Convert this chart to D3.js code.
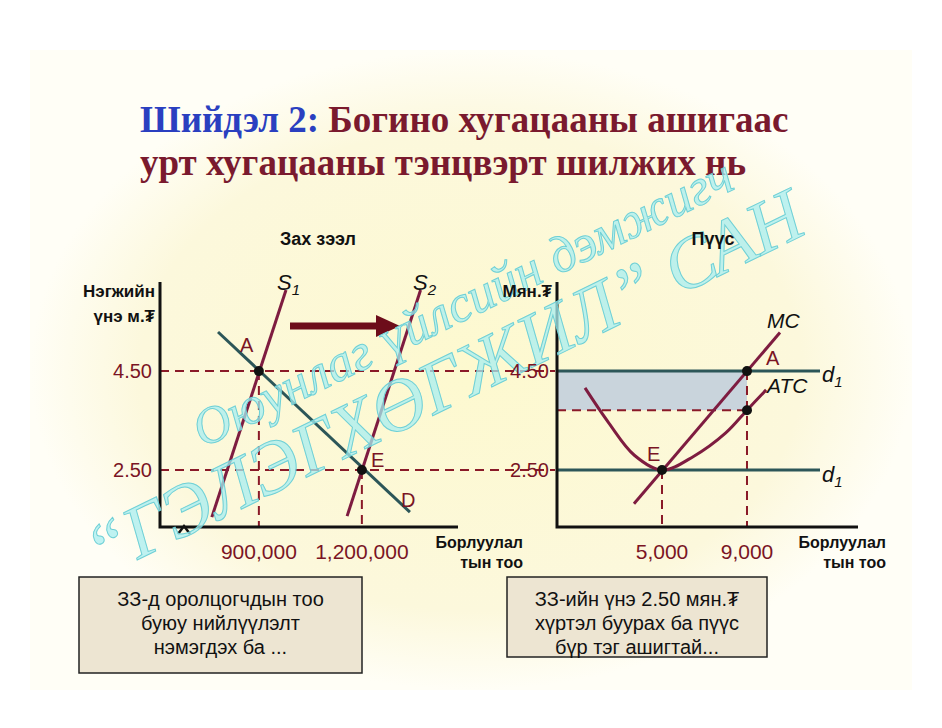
<!DOCTYPE html>
<html><head><meta charset="utf-8">
<script src="https://cdn.jsdelivr.net/npm/d3@7"></script>
<style>body{margin:0;background:#fff}svg{display:block}</style>
</head><body>
<svg id="drawspace" width="942" height="728"></svg>
<script>
// market panel (quantity, price)
const priceLevels = [4.5, 2.5];
const priceLabels = ["4.50", "2.50"];
const marketQty = [900000, 1200000];
const marketQtyLabels = ["900,000", "1,200,000"];
const supply1 = [[763000, 1.55], [979000, 6.14]];
const supply2 = [[1157000, 1.57], [1371000, 6.14]];
const demand = [[781000, 5.29], [1340000, 1.65]];
// firm panel
const firmQty = [5000, 9000];
const firmQtyLabels = ["5,000", "9,000"];
const atcAt9000 = 3.71;
const mcCurve = [[3682, 1.82], [10553, 5.28]];
const atcCurve = [[1377, 4.16], [2500, 3.45], [3700, 2.8], [5000, 2.5], [6500, 2.78], [8000, 3.25], [9000, 3.71], [9900, 4.12]];

const svg = d3.select("#drawspace");
const maroon = "#7e1c40", teal = "#2c5658", dash = "#8a1a28", tick = "#7a1424";

let bg = svg.append("defs").append("radialGradient").attr("id", "bg");
bg.append("stop").attr("offset", "0%").attr("stop-color", "#fdf9cf");
bg.append("stop").attr("offset", "75%").attr("stop-color", "#fcf8dc");
bg.append("stop").attr("offset", "100%").attr("stop-color", "#fffef6");
svg.append("rect").attr("x", 30).attr("y", 50).attr("width", 882).attr("height", 640).attr("fill", "url(#bg)");

// title
let t = svg.append("g").attr("font-family", "Liberation Serif").attr("font-weight", "bold").attr("font-size", 37);
let l1 = t.append("text").attr("x", 140).attr("y", 132);
l1.append("tspan").attr("fill", "#2a3fc0").text("Шийдэл 2:  ");
l1.append("tspan").attr("fill", "#7a1a2e").text("Богино хугацааны ашигаас");
t.append("text").attr("x", 140).attr("y", 175).attr("fill", "#7a1a2e").text("урт хугацааны тэнцвэрт  шилжих нь");

// scales
const y = d3.scaleLinear().domain([1.35, 6.3]).range([527, 282]);
const xm = d3.scaleLinear().domain([612000, 1480000]).range([160, 458]);
const xf = d3.scaleLinear().domain([59, 14224]).range([557, 858]);
const line = (xs) => d3.line().x((d) => xs(d[0])).y((d) => y(d[1]));

// shaded profit area
svg.append("rect").attr("x", xf.range()[0]).attr("y", y(4.5))
  .attr("width", xf(9000) - xf.range()[0]).attr("height", y(atcAt9000) - y(4.5)).attr("fill", "#c9d4dc");

// dashed guides
const dg = svg.append("g").attr("stroke", dash).attr("stroke-width", 2).attr("stroke-dasharray", "9,6");
priceLevels.forEach((p) => dg.append("line").attr("x1", 160).attr("x2", 555).attr("y1", y(p)).attr("y2", y(p)));
marketQty.forEach((q, i) => dg.append("line").attr("x1", xm(q)).attr("x2", xm(q)).attr("y1", y(priceLevels[i])).attr("y2", 527));
dg.append("line").attr("x1", 557).attr("x2", xf(9000)).attr("y1", y(atcAt9000)).attr("y2", y(atcAt9000));
firmQty.forEach((q, i) => dg.append("line").attr("x1", xf(q)).attr("x2", xf(q)).attr("y1", y(priceLevels[1 - i])).attr("y2", 527));

// d1 lines
priceLevels.forEach((p) => svg.append("line").attr("x1", 557).attr("x2", 820).attr("y1", y(p)).attr("y2", y(p))
  .attr("stroke", teal).attr("stroke-width", 3));

// axes
const ax = svg.append("g").attr("stroke", "#111").attr("stroke-width", 3).attr("fill", "none");
ax.append("path").attr("d", "M160,282V527H458");
ax.append("path").attr("d", "M557,282V527H858");
ax.append("path").attr("d", "M178,534L184,526L190,534").attr("stroke-width", 2.5);

// market curves
svg.append("path").attr("d", line(xm)(demand)).attr("stroke", teal).attr("stroke-width", 3);
[supply1, supply2].forEach((s) => svg.append("path").attr("d", line(xm)(s)).attr("stroke", maroon).attr("stroke-width", 3));
// arrow
svg.append("path").attr("d", "M290,326H378").attr("stroke", "#6d0d1a").attr("stroke-width", 7);
svg.append("path").attr("d", "M376,315L400,326L376,337Z").attr("fill", "#6d0d1a");

// firm curves
svg.append("path").attr("d", line(xf)(mcCurve)).attr("stroke", maroon).attr("stroke-width", 3);
svg.append("path").attr("d", line(xf).curve(d3.curveCatmullRom)(atcCurve)).attr("fill", "none").attr("stroke", maroon).attr("stroke-width", 3);

// points
[[xm(900000), y(4.5)], [xm(1200000), y(2.5)], [xf(5000), y(2.5)], [xf(9000), y(4.5)], [xf(9000), y(atcAt9000)]]
  .forEach((p) => svg.append("circle").attr("cx", p[0]).attr("cy", p[1]).attr("r", 5).attr("fill", "#111"));

// watermark
const wm = svg.append("g").attr("font-family", "Liberation Serif").attr("font-style", "italic")
  .attr("fill", "#a8eef0").attr("fill-opacity", 0.75).attr("stroke", "#6fd0d6").attr("stroke-width", 1);
wm.append("text").attr("transform", "translate(470,318) rotate(-26)").attr("text-anchor", "middle")
  .attr("font-size", 52).text("Оюунлаг үйлсийн дэмжигч");
wm.append("text").attr("transform", "translate(455,405) rotate(-26)").attr("text-anchor", "middle")
  .attr("font-size", 74).text("“ГЭЛЭГХӨГЖИЛ” САН");

// labels
const lab = (x, yy, s, o = {}) => svg.append("text").attr("x", x).attr("y", yy)
  .attr("font-family", "Liberation Sans").attr("font-size", o.size || 20).attr("fill", o.fill || tick)
  .attr("font-weight", o.bold ? "bold" : null).attr("font-style", o.italic ? "italic" : null)
  .attr("text-anchor", o.anchor || "start").text(s);
lab(318, 245, "Зах зээл", { bold: true, fill: "#111", size: 18, anchor: "middle" });
lab(713, 245, "Пүүс", { bold: true, fill: "#111", size: 18, anchor: "middle" });
lab(155, 297, "Нэгжийн", { bold: true, fill: "#111", size: 17, anchor: "end" });
lab(155, 322, "үнэ  м.₮", { bold: true, fill: "#111", size: 17, anchor: "end" });
lab(552, 297, "Мян.₮", { bold: true, fill: "#111", size: 17, anchor: "end" });
priceLabels.forEach((s, i) => {
  lab(152, y(priceLevels[i]) + 7, s, { anchor: "end" });
  lab(549, y(priceLevels[i]) + 7, s, { anchor: "end" });
});
marketQtyLabels.forEach((s, i) => lab(xm(marketQty[i]), 559, s, { anchor: "middle", size: 21 }));
firmQtyLabels.forEach((s, i) => lab(xf(firmQty[i]), 559, s, { anchor: "middle", size: 21 }));
[[523, "Борлуулал", "тын тоо"], [886, "Борлуулал", "тын тоо"]].forEach((d) => {
  lab(d[0], 548, d[1], { bold: true, fill: "#111", size: 16, anchor: "end" });
  lab(d[0], 568, d[2], { bold: true, fill: "#111", size: 16, anchor: "end" });
});
const sub = (x, yy, a, b) => { let e = lab(x, yy, a, { italic: true, fill: "#111", size: 22 });
  e.append("tspan").attr("dy", 5).attr("font-size", 15).text(b); };
sub(277, 290, "S", "1"); sub(413, 290, "S", "2");
sub(822, 382, "d", "1"); sub(822, 482, "d", "1");
lab(240, 352, "A", { size: 20 }); lab(371, 467, "E", { size: 20 }); lab(401, 507, "D", { size: 20 });
lab(647, 461, "E", { size: 20 }); lab(766, 365, "A", { size: 20 });
lab(767, 328, "MC", { italic: true, fill: "#111", size: 21 });
lab(767, 393, "ATC", { italic: true, fill: "#111", size: 21 });

// text boxes
const box = (x, yy, w, h, lines) => {
  svg.append("rect").attr("x", x).attr("y", yy).attr("width", w).attr("height", h)
    .attr("fill", "#ede5d2").attr("stroke", "#222").attr("stroke-width", 1.5);
  lines.forEach((s, i) => lab(x + w / 2, yy + 29 + i * 24, s, { fill: "#111", size: 20, anchor: "middle" }));
};
box(79, 577, 283, 96, ["ЗЗ-д оролцогчдын тоо", "буюу нийлүүлэлт", "нэмэгдэх ба ..."]);
box(507, 577, 260, 80, ["ЗЗ-ийн үнэ 2.50 мян.₮", "хүртэл буурах ба пүүс", "бүр тэг ашигтай..."]);
</script>
</body></html>
